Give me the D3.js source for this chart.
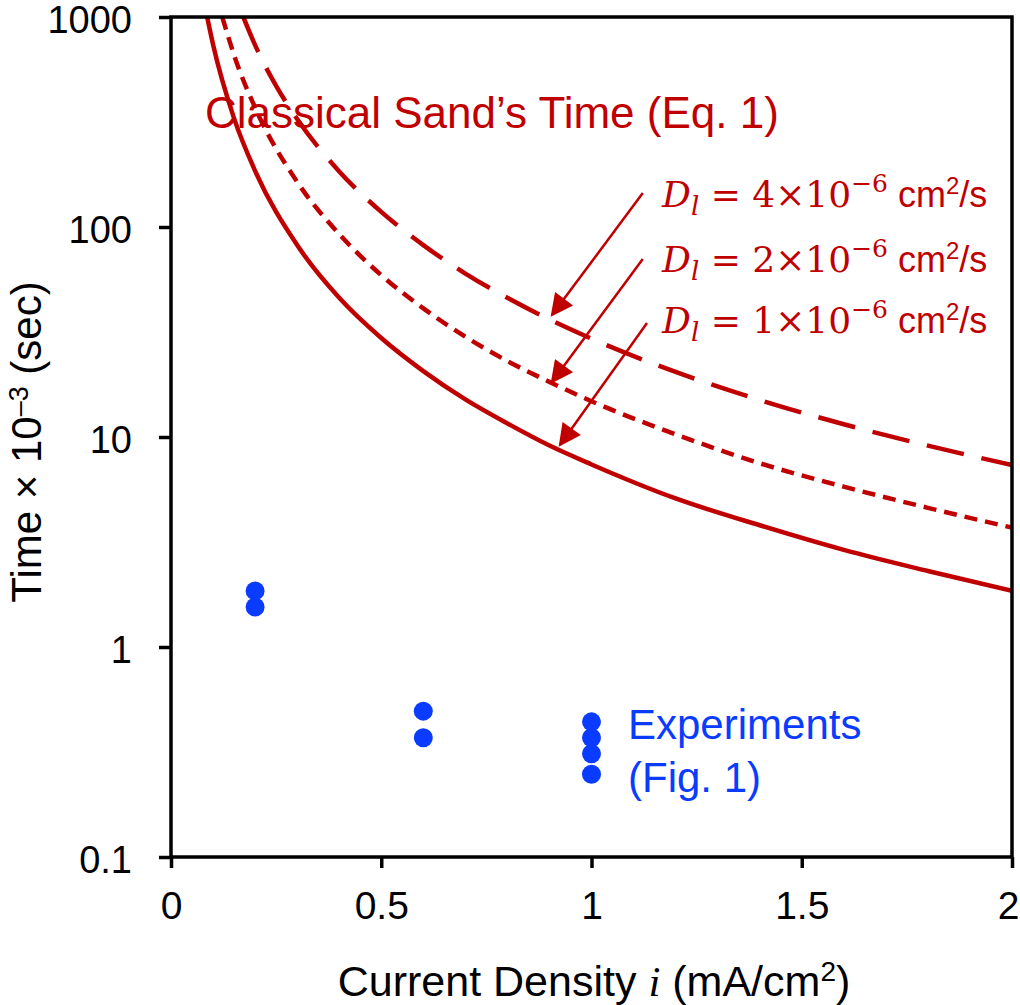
<!DOCTYPE html>
<html>
<head>
<meta charset="utf-8">
<script src="https://cdn.jsdelivr.net/npm/d3@7"></script>
<style>
  body { margin: 0; background: #fff; }
  text { font-family: "Liberation Sans", Arial, sans-serif; }
</style>
</head>
<body>
<script>
// tick values
var xTicks = [0, 0.5, 1, 1.5, 2];
var yTicks = [0.1, 1, 10, 100, 1000];

// Sand's time curves (time x 10^-3 s)
var solidI = [0.086, 0.1, 0.15, 0.2, 0.3, 0.4, 0.5, 0.6, 0.7, 0.8, 0.9, 1.0, 1.2, 1.4, 1.6, 1.8, 2.0];
var solidT = [1000, 740, 329, 185, 82, 46, 29.6, 20.6, 15.1, 11.6, 9.1, 7.4, 5.1, 3.8, 2.9, 2.3, 1.85];
var dottedI = [0.122, 0.15, 0.2, 0.3, 0.4, 0.5, 0.6, 0.7, 0.8, 0.9, 1.0, 1.2, 1.4, 1.6, 1.8, 2.0];
var dottedT = [1000, 658, 370, 164, 92.5, 59, 41, 30, 23, 18.3, 14.8, 10.3, 7.5, 5.8, 4.6, 3.7];
var dashedI = [0.172, 0.2, 0.25, 0.3, 0.4, 0.5, 0.6, 0.7, 0.8, 0.9, 1.0, 1.2, 1.4, 1.6, 1.8, 2.0];
var dashedT = [1000, 735, 470, 327, 184, 118, 82, 60, 46, 36.3, 29.4, 20.4, 15, 11.5, 9.1, 7.35];

// experiments (Fig. 1)
var expI = [0.2, 0.2, 0.6, 0.6, 1, 1, 1, 1];
var expT = [1.85, 1.55, 0.495, 0.37, 0.44, 0.37, 0.31, 0.248];

// annotation labels
var diffLabels = ["4", "2", "1"];
var arrowFromI = [1.122, 1.122, 1.132];
var arrowFromT = [145, 70.4, 34.9];
var arrowToI = [0.906, 0.906, 0.925];
var arrowToT = [38.1, 18.3, 9.16];

var red = "#c00000", blue = "#0a3cff";

var width = 1020, height = 1005;
var margin = { top: 17, right: 8, bottom: 148, left: 171 };

var svg = d3.select("body").append("svg")
    .attr("width", width)
    .attr("height", height);

var x = d3.scaleLinear().domain([0, 2]).range([margin.left, width - margin.right]);
var y = d3.scaleLog().domain([0.1, 1000]).range([height - margin.bottom, margin.top]);

svg.append("defs").append("clipPath").attr("id", "clip")
    .append("rect")
    .attr("x", x(0)).attr("y", y(1000))
    .attr("width", x(2) - x(0)).attr("height", y(0.1) - y(1000));

svg.append("defs").append("marker")
    .attr("id", "head")
    .attr("viewBox", "0 0 10 10")
    .attr("refX", 9).attr("refY", 5)
    .attr("markerWidth", 10).attr("markerHeight", 9)
    .attr("markerUnits", "strokeWidth")
    .attr("orient", "auto")
    .append("path").attr("d", "M0,0 L10,5 L0,10 Z").attr("fill", red);

// curves
var line = d3.line()
    .x(d => x(d[0]))
    .y(d => y(d[1]))
    .curve(d3.curveMonotoneX);

var curves = [
    { i: solidI, t: solidT, dash: null },
    { i: dottedI, t: dottedT, dash: "13,8" },
    { i: dashedI, t: dashedT, dash: "38,18" }
];

var plot = svg.append("g").attr("clip-path", "url(#clip)");
curves.forEach(function (c) {
    plot.append("path")
        .datum(c.i.map((v, k) => [v, c.t[k]]))
        .attr("d", line)
        .attr("fill", "none")
        .attr("stroke", red)
        .attr("stroke-width", 4.5)
        .attr("stroke-dasharray", c.dash);
});

// experiment dots
plot.selectAll("circle.exp")
    .data(expI.map((v, k) => [v, expT[k]]))
    .join("circle")
    .attr("cx", d => x(d[0]))
    .attr("cy", d => y(d[1]))
    .attr("r", 9.5)
    .attr("fill", blue);

// frame
svg.append("rect")
    .attr("x", x(0)).attr("y", y(1000))
    .attr("width", x(2) - x(0)).attr("height", y(0.1) - y(1000))
    .attr("fill", "none").attr("stroke", "#000").attr("stroke-width", 3.5);

// axes
var xAxis = svg.append("g")
    .attr("transform", `translate(0,${y(0.1)})`)
    .call(d3.axisBottom(x).tickValues(xTicks).tickFormat(d3.format("")).tickSize(11).tickPadding(23));
var yAxis = svg.append("g")
    .attr("transform", `translate(${x(0)},0)`)
    .call(d3.axisLeft(y).tickValues(yTicks).tickFormat(d => d >= 1 ? d3.format("d")(d) : d).tickSize(12).tickPadding(27));

[xAxis, yAxis].forEach(function (a) {
    a.select(".domain").remove();
    a.selectAll(".tick line").attr("stroke", "#000").attr("stroke-width", 3.5);
    a.selectAll(".tick text")
        .attr("fill", "#000")
        .style("font-family", "'Liberation Sans', Arial, sans-serif")
        .style("font-size", "39px");
});
yAxis.selectAll(".tick text").style("font-size", "38px").attr("dy", "0.4em");
// keep the last x label inside the page
xAxis.selectAll(".tick text").filter(d => d === 2).attr("dx", -4);

// axis titles
var xt = svg.append("text")
    .attr("x", 594).attr("y", 996)
    .attr("text-anchor", "middle")
    .style("font-size", "43px");
xt.append("tspan").text("Current Density ");
xt.append("tspan").text("i").style("font-family", "'Liberation Serif', serif").style("font-style", "italic");
xt.append("tspan").text(" (mA/cm");
xt.append("tspan").text("2").attr("dy", -15).style("font-size", "28px");
xt.append("tspan").text(")").attr("dy", 15);

var yt = svg.append("text")
    .attr("transform", `translate(41,442) rotate(-90)`)
    .attr("text-anchor", "middle")
    .style("font-size", "42px");
yt.append("tspan").text("Time × 10");
yt.append("tspan").text("–3").attr("dy", -13).style("font-size", "27px");
yt.append("tspan").text(" (sec)").attr("dy", 13);

// annotations
svg.append("text")
    .attr("x", 205).attr("y", 128)
    .attr("fill", red)
    .style("font-size", "44px")
    .text("Classical Sand’s Time (Eq. 1)");

arrowFromI.forEach(function (v, k) {
    svg.append("line")
        .attr("x1", x(v)).attr("y1", y(arrowFromT[k]))
        .attr("x2", x(arrowToI[k])).attr("y2", y(arrowToT[k]))
        .attr("stroke", red).attr("stroke-width", 2.5)
        .attr("marker-end", "url(#head)");
});

var labelY = [207, 272, 333];
diffLabels.forEach(function (n, k) {
    var t = svg.append("text")
        .attr("x", 662).attr("y", labelY[k])
        .attr("fill", red)
        .style("font-size", "36px");
    var serif = "'DejaVu Serif', 'Liberation Serif', serif";
    t.append("tspan").text("D").style("font-family", serif).style("font-style", "italic");
    t.append("tspan").text("l").attr("dy", 8).style("font-family", serif).style("font-style", "italic").style("font-size", "26px");
    t.append("tspan").text(" = " + n + "×10").attr("dy", -8).style("font-family", serif);
    t.append("tspan").text("−6").attr("dy", -15).style("font-family", serif).style("font-size", "25px");
    t.append("tspan").text(" cm").attr("dy", 15);
    t.append("tspan").text("2").attr("dy", -13).style("font-size", "24px");
    t.append("tspan").text("/s").attr("dy", 13);
});

var et = svg.append("text").attr("fill", blue).style("font-size", "42px");
et.append("tspan").attr("x", 628).attr("y", 739).text("Experiments");
et.append("tspan").attr("x", 628).attr("y", 792).text("(Fig. 1)");
</script>
</body>
</html>
